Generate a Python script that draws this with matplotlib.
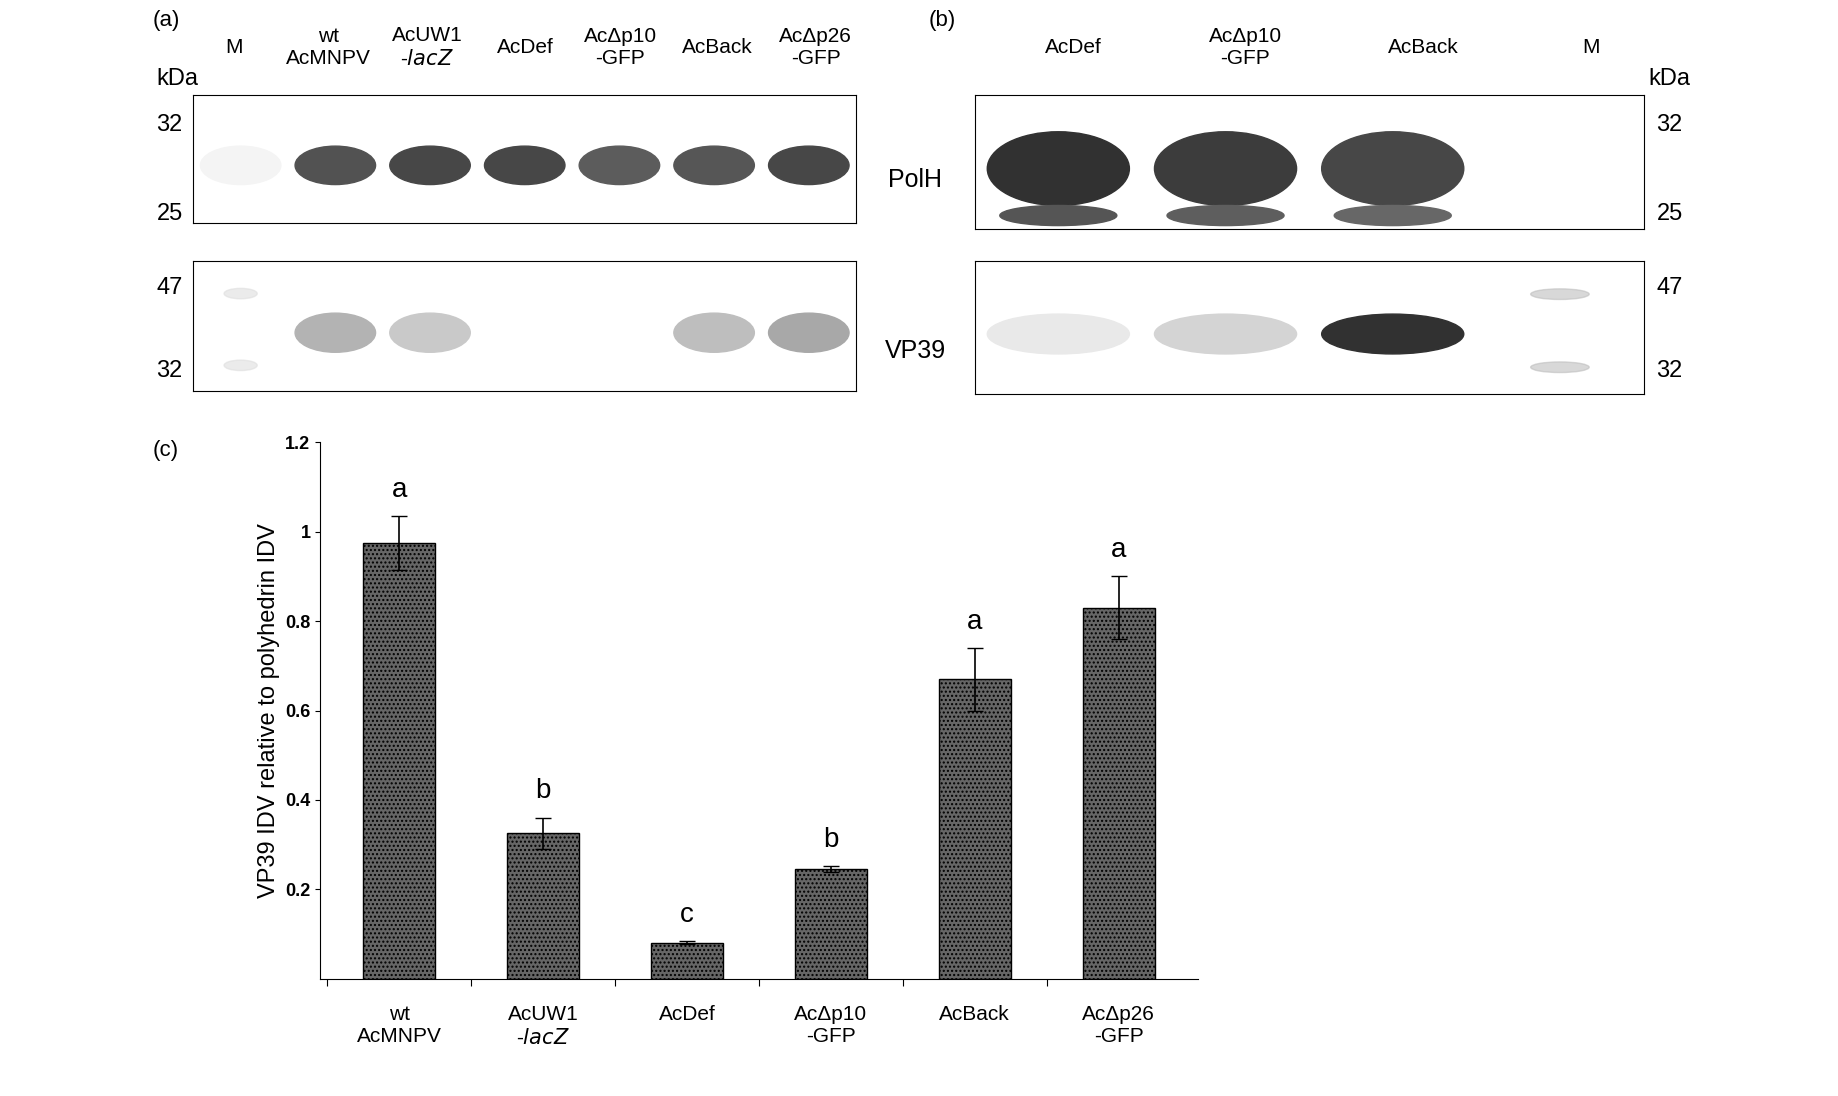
import numpy as np
import matplotlib.pyplot as plt
from matplotlib.patches import Ellipse

plt.rcParams['font.family'] = ['Liberation Sans', 'DejaVu Sans']
W, H = 1550.0, 924.0

# bar chart data
strains = ['wt\nAcMNPV', 'AcUW1\n-$\\it{lacZ}$', 'AcDef', 'Ac\u0394p10\n-GFP', 'AcBack', 'Ac\u0394p26\n-GFP']
vp39_ratio = [0.975, 0.325, 0.08, 0.245, 0.67, 0.83]
vp39_err = [0.06, 0.035, 0.003, 0.007, 0.07, 0.07]
letters = ['a', 'b', 'c', 'b', 'a', 'a']

# blot panel (a): band intensities per lane (0..1), lanes M + six strains
lanes_a = ['M', 'wt\nAcMNPV', 'AcUW1\n-lacZ', 'AcDef', 'Ac\u0394p10\n-GFP', 'AcBack', 'Ac\u0394p26\n-GFP']
polh_a = [0.05, 0.8, 0.85, 0.85, 0.75, 0.78, 0.85]
vp39_a = [0.15, 0.35, 0.25, 0.0, 0.0, 0.3, 0.4]
# blot panel (b)
lanes_b = ['AcDef', 'Ac\u0394p10\n-GFP', 'AcBack', 'M']
polh_b = [0.95, 0.9, 0.85, 0.0]
vp39_b = [0.1, 0.2, 0.95, 0.3]

fig = plt.figure(figsize=(18.38, 10.96), dpi=100)


def fax(x0, y0, x1, y1):
    return fig.add_axes([x0 / W, 1 - y1 / H, (x1 - x0) / W, (y1 - y0) / H])


def txt(x, y, s, size=15, **kw):
    fig.text(x / W, 1 - y / H, s, fontsize=size, va='center', ha=kw.pop('ha', 'center'), **kw)


def blot(ax, vals, big=False, marker_lane=None):
    n = len(vals)
    ax.set_xlim(0, n)
    ax.set_ylim(0, 1)
    for i, v in enumerate(vals):
        if v <= 0:
            continue
        g = str(1 - v * 0.85)
        if i == marker_lane:
            ax.add_patch(Ellipse((i + 0.5, 0.75), 0.35, 0.08, color=g, alpha=0.6))
            ax.add_patch(Ellipse((i + 0.5, 0.2), 0.35, 0.08, color=g, alpha=0.6))
            continue
        h = 0.55 if big else 0.3
        ax.add_patch(Ellipse((i + 0.5, 0.45), 0.85, h, color=g))
        if big:
            ax.add_patch(Ellipse((i + 0.5, 0.1), 0.7, 0.15, color=str(1 - v * 0.7)))
    ax.set_xticks([])
    ax.set_yticks([])


blot(fax(163, 80, 722, 188), polh_a, marker_lane=None)
blot(fax(163, 220, 722, 330), vp39_a, marker_lane=0)
blot(fax(822, 80, 1386, 193), polh_b, big=True)
blot(fax(822, 220, 1386, 332), vp39_b, marker_lane=3)

txt(140, 17, '(a)', 16)
txt(795, 17, '(b)', 16)
txt(140, 380, '(c)', 16)
for x, s in zip([197, 277, 360, 443, 523, 605, 688], lanes_a):
    if s == 'AcUW1\n-lacZ':
        s = 'AcUW1\n-$\\it{lacZ}$'
    txt(x, 40, s, 15)
for x, s in zip([905, 1050, 1200, 1342], lanes_b):
    txt(x, 40, s, 15)
txt(150, 67, 'kDa', 17)
txt(1408, 67, 'kDa', 17)
for y, s in [(105, '32'), (180, '25'), (243, '47'), (313, '32')]:
    txt(143, y, s, 17)
    txt(1408, y, s, 17)
txt(772, 152, 'PolH', 18)
txt(772, 296, 'VP39', 18)

# bar chart
ax = fax(270, 373, 1010, 825)
x = np.arange(len(strains))
ax.bar(x, vp39_ratio, width=0.5, color='#666666', edgecolor='black', hatch='....', linewidth=1)
ax.errorbar(x, vp39_ratio, yerr=vp39_err, fmt='none', ecolor='black', capsize=6, lw=1.2)
for xi, v, e, l in zip(x, vp39_ratio, vp39_err, letters):
    ax.text(xi, v + e + 0.03, l, ha='center', va='bottom', fontsize=20)
ax.set_xlim(-0.55, len(strains) - 0.45)
ax.set_ylim(0, 1.2)
ax.set_yticks([0.2, 0.4, 0.6, 0.8, 1.0, 1.2])
ax.set_yticklabels(['0.2', '0.4', '0.6', '0.8', '1', '1.2'], fontweight='bold', fontsize=13)
ax.set_xticks(x - 0.5, minor=False)
ax.set_xticklabels([])
ax.tick_params(axis='x', length=5)
for xi, s in zip(x, strains):
    ax.text(xi, -0.06, s, ha='center', va='top', fontsize=15, transform=ax.transData)
ax.spines['top'].set_visible(False)
ax.spines['right'].set_visible(False)
ax.set_ylabel('VP39 IDV relative to polyhedrin IDV', fontsize=17)

fig.savefig('out.png')
